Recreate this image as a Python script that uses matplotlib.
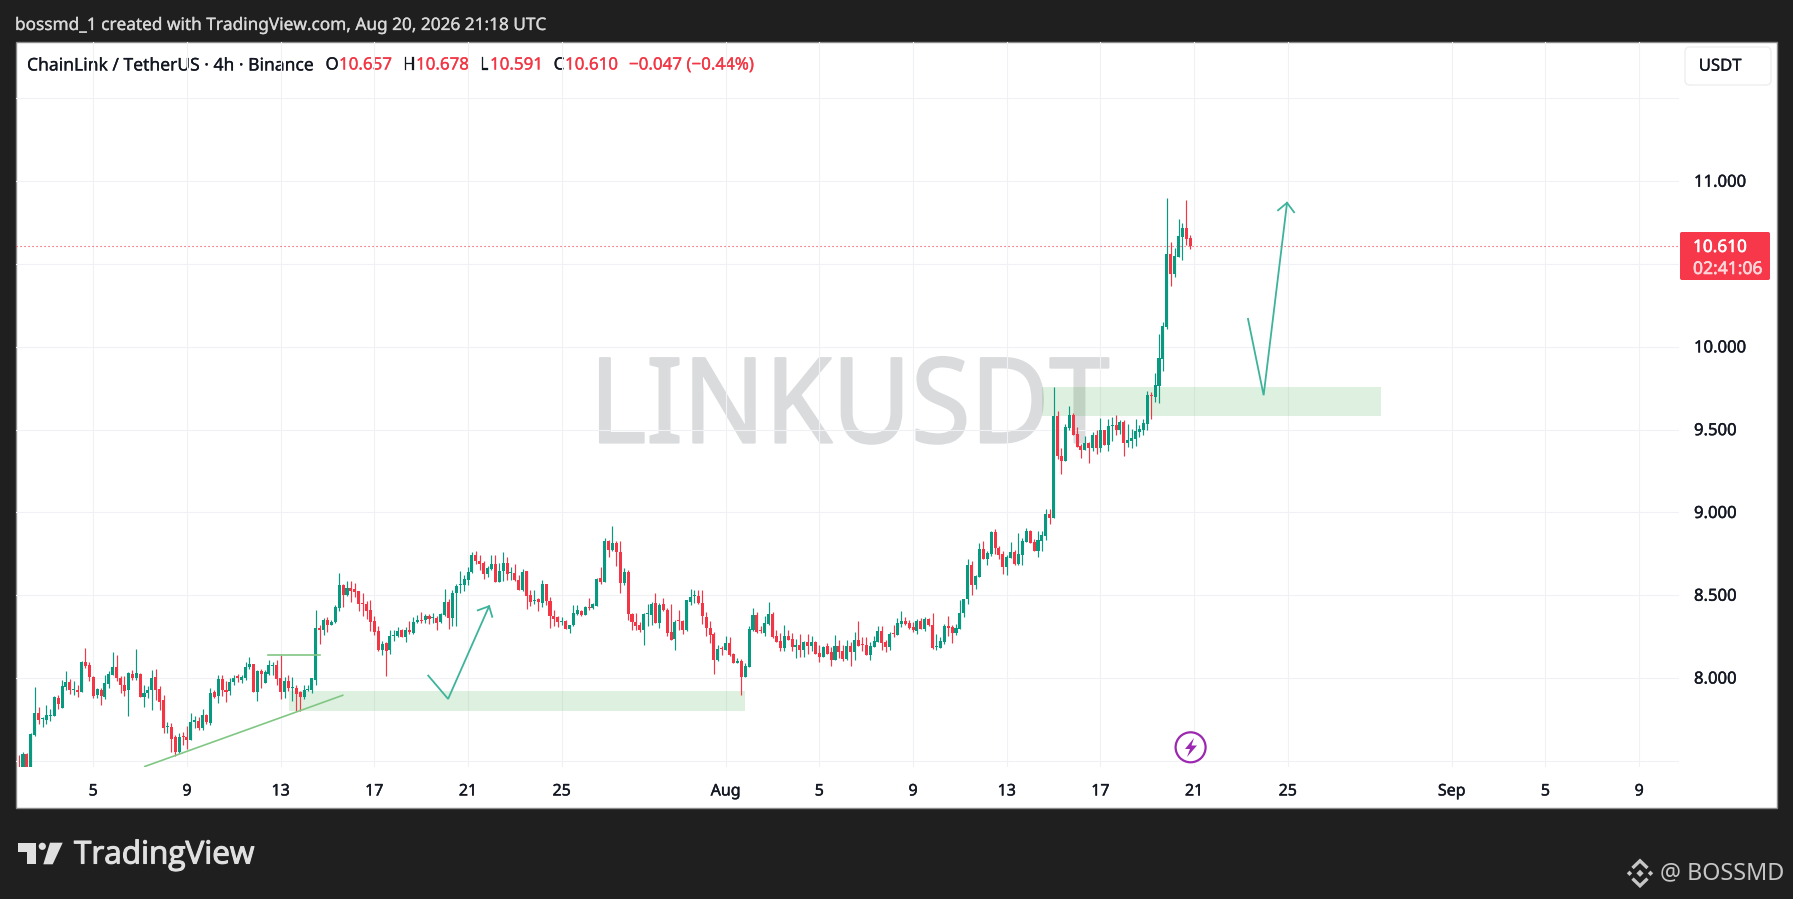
import matplotlib
matplotlib.use("Agg")
import matplotlib.pyplot as plt
import matplotlib.patheffects as pe
import numpy as np
from matplotlib.patches import Rectangle, FancyBboxPatch, Circle, Polygon
from matplotlib.transforms import Affine2D, ScaledTranslation

plt.rcParams['font.family'] = ['Noto Sans', 'DejaVu Sans']

opens = [7.431,7.42,7.544,7.42,7.659,7.792,7.753,7.749,7.770,7.770,
7.880,7.822,7.947,7.979,7.926,7.930,7.914,8.095,8.081,8.009,
7.896,7.930,7.886,7.967,8.021,8.069,8.001,7.961,7.926,8.027,
8.001,8.027,7.886,7.912,7.926,8.007,7.936,7.866,7.703,7.707,
7.645,7.552,7.651,7.647,7.625,7.737,7.743,7.701,7.780,7.731,
7.914,7.890,7.995,7.928,7.920,7.975,8.011,7.991,8.003,8.065,
8.087,7.914,8.045,7.971,8.027,8.073,8.081,8.003,7.918,7.983,
7.940,7.943,7.914,7.888,7.926,7.926,7.991,8.305,8.293,8.353,
8.319,8.337,8.426,8.559,8.504,8.546,8.540,8.524,8.454,8.450,
8.414,8.347,8.287,8.172,8.210,8.168,8.257,8.257,8.291,8.251,
8.293,8.273,8.337,8.353,8.351,8.377,8.361,8.365,8.339,8.381,
8.462,8.361,8.514,8.561,8.559,8.595,8.639,8.746,8.709,8.697,
8.627,8.661,8.691,8.583,8.645,8.697,8.635,8.637,8.595,8.534,
8.645,8.504,8.464,8.476,8.456,8.571,8.468,8.375,8.367,8.341,
8.347,8.299,8.319,8.387,8.408,8.383,8.432,8.426,8.434,8.607,
8.581,8.830,8.776,8.818,8.764,8.577,8.643,8.389,8.341,8.323,
8.289,8.385,8.383,8.456,8.335,8.450,8.414,8.281,8.238,8.347,
8.347,8.291,8.462,8.494,8.498,8.456,8.371,8.305,8.269,8.112,
8.178,8.172,8.214,8.148,8.094,8.106,8.005,8.067,8.291,8.381,
8.287,8.275,8.329,8.389,8.257,8.226,8.184,8.257,8.236,8.190,
8.202,8.172,8.220,8.196,8.220,8.154,8.130,8.196,8.160,8.112,
8.196,8.166,8.118,8.196,8.160,8.232,8.202,8.202,8.142,8.190,
8.220,8.287,8.220,8.190,8.269,8.263,8.329,8.347,8.335,8.311,
8.287,8.347,8.299,8.359,8.323,8.186,8.184,8.220,8.317,8.311,
8.275,8.299,8.390,8.480,8.685,8.565,8.613,8.782,8.722,8.752,
8.885,8.788,8.752,8.673,8.728,8.764,8.691,8.746,8.824,8.891,
8.824,8.770,8.830,8.860,8.993,8.969,9.585,9.344,9.313,9.513,
9.591,9.476,9.404,9.380,9.422,9.392,9.470,9.392,9.495,9.410,
9.521,9.531,9.495,9.549,9.422,9.434,9.446,9.483,9.501,9.537,
9.710,9.700,9.766,9.924,10.117,10.563,10.443,10.545,10.666,10.720,10.657]

highs = [7.538,7.554,7.546,7.669,7.949,7.826,7.765,7.840,7.816,7.890,
7.900,7.987,8.045,7.995,7.985,7.957,8.103,8.184,8.095,8.015,
7.940,7.940,8.021,8.041,8.158,8.142,8.011,8.015,8.035,8.051,
8.178,8.031,7.957,7.955,8.051,8.055,7.951,7.900,7.735,7.729,
7.659,7.669,7.673,7.709,7.790,7.770,7.765,7.816,7.784,7.940,
7.926,8.021,8.021,7.981,8.001,8.021,8.027,8.021,8.097,8.126,
8.087,8.051,8.055,8.051,8.108,8.095,8.112,8.142,8.007,8.021,
8.007,7.957,7.920,7.957,7.961,8.001,8.414,8.323,8.363,8.369,
8.353,8.444,8.637,8.571,8.589,8.585,8.577,8.528,8.514,8.464,
8.470,8.377,8.313,8.222,8.216,8.293,8.289,8.307,8.297,8.309,
8.347,8.367,8.383,8.397,8.389,8.387,8.393,8.377,8.393,8.540,
8.480,8.534,8.571,8.649,8.621,8.671,8.762,8.770,8.742,8.705,
8.675,8.742,8.746,8.695,8.762,8.732,8.671,8.689,8.621,8.659,
8.649,8.534,8.534,8.484,8.591,8.571,8.490,8.414,8.373,8.369,
8.353,8.323,8.440,8.440,8.414,8.438,8.484,8.454,8.605,8.671,
8.846,8.836,8.921,8.826,8.826,8.665,8.655,8.393,8.393,8.337,
8.393,8.448,8.458,8.514,8.454,8.484,8.424,8.450,8.349,8.410,
8.349,8.474,8.538,8.530,8.534,8.534,8.397,8.343,8.277,8.202,
8.192,8.253,8.251,8.152,8.122,8.118,8.092,8.317,8.426,8.399,
8.317,8.377,8.460,8.399,8.291,8.273,8.323,8.293,8.273,8.236,
8.269,8.224,8.269,8.257,8.224,8.202,8.196,8.214,8.188,8.263,
8.232,8.202,8.232,8.220,8.281,8.347,8.245,8.251,8.220,8.257,
8.317,8.317,8.232,8.281,8.323,8.365,8.408,8.369,8.353,8.341,
8.359,8.365,8.371,8.365,8.395,8.269,8.251,8.329,8.377,8.323,
8.329,8.474,8.480,8.722,8.709,8.625,8.818,8.830,8.770,8.891,
8.903,8.800,8.770,8.746,8.824,8.776,8.873,8.848,8.909,8.897,
8.842,8.891,8.891,9.023,9.018,9.756,9.615,9.390,9.537,9.640,
9.601,9.519,9.416,9.464,9.428,9.483,9.501,9.573,9.501,9.567,
9.579,9.591,9.561,9.561,9.537,9.507,9.567,9.531,9.567,9.736,
9.730,9.845,10.080,10.153,10.896,10.636,10.600,10.775,10.745,10.884,10.678]

lows = [7.40,7.40,7.40,7.40,7.649,7.725,7.703,7.725,7.739,7.770,
7.816,7.822,7.930,7.906,7.900,7.886,7.914,8.061,7.981,7.880,
7.880,7.840,7.874,7.940,8.017,7.981,7.910,7.890,7.770,7.991,
7.991,7.884,7.824,7.880,7.806,7.870,7.810,7.669,7.669,7.552,
7.528,7.548,7.598,7.574,7.625,7.699,7.685,7.685,7.725,7.719,
7.880,7.850,7.894,7.854,7.900,7.961,7.975,7.971,7.991,8.055,
7.914,7.864,7.940,7.971,8.021,8.021,7.961,7.876,7.880,7.920,
7.860,7.802,7.800,7.874,7.924,7.910,7.957,8.208,8.259,8.277,
8.319,8.333,8.408,8.430,8.498,8.458,8.490,8.408,8.377,8.357,
8.285,8.261,8.162,8.142,8.011,8.144,8.222,8.249,8.249,8.216,
8.269,8.269,8.333,8.333,8.333,8.327,8.333,8.293,8.333,8.373,
8.297,8.313,8.317,8.514,8.524,8.565,8.635,8.691,8.655,8.601,
8.609,8.655,8.583,8.583,8.585,8.591,8.591,8.585,8.534,8.528,
8.420,8.434,8.448,8.408,8.428,8.444,8.301,8.317,8.309,8.323,
8.297,8.275,8.317,8.383,8.377,8.383,8.414,8.418,8.434,8.567,
8.579,8.730,8.770,8.675,8.516,8.563,8.349,8.289,8.293,8.277,
8.198,8.313,8.323,8.335,8.303,8.404,8.257,8.232,8.168,8.293,
8.269,8.283,8.444,8.454,8.448,8.329,8.253,8.212,8.027,8.102,
8.138,8.172,8.132,8.088,8.092,7.896,8.005,8.065,8.287,8.275,
8.273,8.257,8.323,8.239,8.220,8.166,8.166,8.232,8.166,8.124,
8.130,8.130,8.148,8.166,8.148,8.100,8.130,8.148,8.075,8.112,
8.124,8.106,8.112,8.075,8.112,8.196,8.166,8.142,8.112,8.190,
8.220,8.172,8.160,8.172,8.245,8.263,8.311,8.323,8.299,8.281,
8.269,8.299,8.287,8.313,8.178,8.172,8.184,8.208,8.257,8.214,
8.263,8.299,8.371,8.450,8.504,8.540,8.613,8.716,8.685,8.740,
8.752,8.722,8.631,8.625,8.728,8.685,8.685,8.685,8.824,8.818,
8.770,8.734,8.770,8.836,8.933,8.969,9.324,9.235,9.313,9.501,
9.470,9.398,9.326,9.380,9.301,9.374,9.356,9.368,9.410,9.374,
9.434,9.470,9.476,9.338,9.398,9.392,9.404,9.458,9.470,9.495,
9.567,9.670,9.664,9.857,10.110,10.370,10.419,10.545,10.527,10.618,10.591]

closes = [7.43,7.542,7.42,7.665,7.792,7.749,7.759,7.774,7.774,7.884,
7.846,7.955,7.979,7.926,7.930,7.914,8.095,8.075,8.007,7.894,
7.932,7.890,7.971,8.027,8.069,7.999,7.957,7.924,8.029,8.001,
8.029,7.886,7.910,7.928,8.003,7.930,7.858,7.697,7.707,7.635,
7.552,7.647,7.647,7.625,7.737,7.745,7.701,7.780,7.737,7.912,
7.886,7.995,7.928,7.918,7.979,8.003,8.001,8.007,8.069,8.087,
7.914,8.045,8.027,8.037,8.077,8.081,7.997,7.918,7.983,7.938,
7.945,7.906,7.888,7.926,7.932,7.999,8.305,8.293,8.353,8.323,
8.341,8.430,8.559,8.504,8.546,8.526,8.518,8.450,8.450,8.408,
8.341,8.281,8.172,8.208,8.166,8.257,8.261,8.287,8.251,8.293,
8.277,8.341,8.351,8.347,8.377,8.359,8.363,8.335,8.389,8.462,
8.361,8.516,8.557,8.563,8.599,8.643,8.746,8.705,8.691,8.627,
8.665,8.691,8.583,8.649,8.697,8.627,8.637,8.591,8.534,8.643,
8.498,8.462,8.474,8.458,8.571,8.468,8.373,8.359,8.341,8.343,
8.299,8.323,8.395,8.412,8.383,8.432,8.424,8.446,8.601,8.583,
8.830,8.776,8.818,8.760,8.577,8.641,8.385,8.337,8.317,8.289,
8.389,8.389,8.450,8.335,8.444,8.410,8.275,8.232,8.341,8.343,
8.293,8.470,8.490,8.498,8.452,8.373,8.301,8.263,8.112,8.178,
8.176,8.214,8.138,8.094,8.104,8.005,8.075,8.299,8.381,8.277,
8.283,8.335,8.389,8.251,8.220,8.184,8.257,8.232,8.190,8.202,
8.172,8.220,8.196,8.220,8.148,8.130,8.190,8.148,8.112,8.196,
8.160,8.118,8.196,8.160,8.232,8.196,8.198,8.142,8.196,8.226,
8.287,8.214,8.190,8.269,8.265,8.335,8.347,8.329,8.305,8.289,
8.347,8.299,8.359,8.323,8.184,8.190,8.226,8.317,8.305,8.275,
8.305,8.395,8.480,8.685,8.565,8.619,8.782,8.722,8.758,8.885,
8.788,8.746,8.673,8.734,8.764,8.691,8.752,8.830,8.891,8.818,
8.770,8.836,8.866,8.993,8.969,9.585,9.340,9.313,9.519,9.591,
9.470,9.398,9.380,9.422,9.392,9.470,9.392,9.495,9.410,9.525,
9.525,9.495,9.549,9.422,9.440,9.452,9.489,9.507,9.543,9.712,
9.706,9.772,9.930,10.123,10.563,10.443,10.551,10.672,10.720,10.654,10.610]

last_price = 10.61

price_ticks = [7.5, 8.0, 8.5, 9.0, 9.5, 10.0, 10.5, 11.0, 11.5]
price_labels = ['', '8.000', '8.500', '9.000', '9.500', '10.000', '', '11.000', '']

# bar positions of the date labels (6 bars a day)
date_ticks = [19, 43, 67, 91, 115, 139, 181, 205, 229, 253, 277, 301, 325, 367, 391, 415]
date_labels = ['5', '9', '13', '17', '21', '25', 'Aug', '5', '9', '13', '17', '21', '25', 'Sep', '5', '9']

# drawings on the chart, as bar index / price
zone1_x, zone1_y = [69.1, 185.9], [7.804, 7.924]
zone2_x, zone2_y = [262, 348.8], [9.585, 9.760]
trend_x, trend_y = [32.2, 82.9], [7.466, 7.896]
level_x, level_y = [63.8, 77.1], [8.140, 8.140]
arrow1_x, arrow1_y = [104.8, 109.9, 120.4], [8.015, 7.874, 8.434]
head1_x, head1_y = [117.5, 120.4, 121.2], [8.409, 8.434, 8.370]
arrow2_x, arrow2_y = [314.8, 318.8, 324.8], [10.169, 9.708, 10.870]
head2_x, head2_y = [322.5, 324.8, 326.6], [10.825, 10.870, 10.813]

GREEN = '#089981'
RED = '#f23645'
DRAW = '#3db39c'
INK = '#131722'
W, H = 1793, 899


class Squeeze(pe.AbstractPathEffect):
    # narrows a text about pixel column cx and thickens its strokes
    def __init__(self, sx, cx, lw, color):
        super().__init__()
        self.sx, self.cx, self.lw, self.color = sx, cx, lw, color

    def draw_path(self, renderer, gc, tpath, affine, rgbFace=None):
        gc0 = renderer.new_gc()
        gc0.copy_properties(gc)
        gc0.set_linewidth(self.lw)
        gc0.set_foreground(self.color)
        t = affine + Affine2D().translate(-self.cx, 0).scale(self.sx, 1).translate(self.cx, 0)
        renderer.draw_path(gc0, tpath, t, rgbFace)
        gc0.restore()


def heavy(color, lw=0.3):
    return [pe.withStroke(linewidth=lw, foreground=color)]


fig = plt.figure(figsize=(W / 100, H / 100), dpi=100, facecolor='#1f1f1f')

# page furniture in pixel coordinates
bg = fig.add_axes([0, 0, 1, 1], zorder=0)
bg.set_xlim(0, W)
bg.set_ylim(H, 0)
bg.axis('off')
bg.add_patch(Rectangle((15.5, 41.5), 1761.5, 766.5, fc='white', ec='#8a8a8a', lw=1))

bg.text(15, 25, 'bossmd_1 created with TradingView.com, Aug 20, 2026 21:18 UTC',
        color='#d8d8d8', fontsize=12.4, va='center', ha='left', path_effects=heavy('#d8d8d8', 0.2))
bg.text(27, 65.5, 'ChainLink / TetherUS · 4h · Binance', color=INK, fontsize=12.6, va='center',
        path_effects=heavy(INK, 0.2))
for x, s in [(325.5, 'O'), (403, 'H'), (480, 'L'), (553.6, 'C')]:
    bg.text(x, 65.5, s, color=INK, fontsize=12.2, va='center', path_effects=heavy(INK, 0.2))
for x, s in [(339, '10.657'), (416, '10.678'), (490, '10.591'), (565, '10.610'),
             (629, '−0.047 (−0.44%)')]:
    bg.text(x, 65.5, s, color=RED, fontsize=12.2, va='center', path_effects=heavy(RED, 0.2))

bg.text(849.6, 412, 'LINKUSDT', color='#dadbdd', fontsize=85, va='center', ha='center',
        path_effects=[Squeeze(0.916, 849.6, 1.6, '#dadbdd')])

bg.add_patch(FancyBboxPatch((1687, 49), 82, 34, boxstyle='round,pad=2,rounding_size=5',
                            fc='white', ec='#eeeeee', lw=1))
bg.text(1720, 66.7, 'USDT', color=INK, fontsize=12, va='center', ha='center', path_effects=heavy(INK, 0.2))

# TradingView logo
LOGO = '#e0e0e0'
bg.add_patch(Polygon([(18.3, 842.7), (35.7, 842.7), (35.7, 864.3), (26.7, 864.3), (26.7, 852.3), (18.3, 852.3)],
                     fc=LOGO, ec='none'))
bg.add_patch(Circle((42.3, 846.3), 3.6, fc=LOGO, ec='none'))
bg.add_patch(Polygon([(50, 842.7), (62.7, 842.7), (52.7, 864.3), (43.3, 864.3)], fc=LOGO, ec='none'))
bg.text(74, 855, 'TradingView', color=LOGO, fontsize=22.7, va='center', family='Open Sans',
        path_effects=heavy(LOGO, 0.8))

# Binance mark and handle
MARK = '#c6c6c6'
bg.plot([1632.5, 1640, 1647.5], [868, 860.8, 868], color=MARK, lw=2.4, solid_joinstyle='miter', solid_capstyle='butt')
bg.plot([1632.5, 1640, 1647.5], [878.6, 885.8, 878.6], color=MARK, lw=2.4, solid_joinstyle='miter', solid_capstyle='butt')
for cx, r in [(1629.5, 2.7), (1640, 3.6), (1650.5, 2.7)]:
    bg.add_patch(Polygon([(cx - r, 873.3), (cx, 873.3 - r), (cx + r, 873.3), (cx, 873.3 + r)], fc=MARK, ec='none'))
bg.text(1660, 873, '@ BOSSMD', color=MARK, fontsize=16.8, va='center')

# main pane: 16..1679 px across, 41.5..766.5 px down
ax = fig.add_axes([16 / W, 1 - 766.5 / H, (1679 - 16) / W, (766.5 - 41.5) / H], zorder=1)
ax.patch.set_alpha(0)
for s in ax.spines.values():
    s.set_visible(False)
ax.set_xlim(-0.79, 425.2)
ax.set_ylim(7.466, 11.844)

ax.set_xticks(date_ticks)
ax.set_xticklabels(date_labels)
ax.yaxis.tick_right()
ax.set_yticks(price_ticks)
ax.set_yticklabels(price_labels)
ax.tick_params(axis='x', length=0, pad=12.2, labelsize=11.5, labelcolor=INK)
ax.tick_params(axis='y', length=0, pad=10.8, labelsize=12, labelcolor=INK)
up_1px = ScaledTranslation(0, 0.5 / 100, fig.dpi_scale_trans)
for lbl in ax.get_yticklabels():
    lbl.set_transform(lbl.get_transform() + up_1px)
    lbl.set_path_effects(heavy(INK))
for lbl in ax.get_xticklabels():
    lbl.set_path_effects(heavy(INK))
ax.grid(True, color='#f0f1f4', lw=0.8)
ax.set_axisbelow(True)

ax.fill_between(zone1_x, zone1_y[0], zone1_y[1], color='#4caf50', alpha=0.18, lw=0, zorder=1.5)
ax.fill_between(zone2_x, zone2_y[0], zone2_y[1], color='#4caf50', alpha=0.18, lw=0, zorder=1.5)

o = np.array(opens)
h = np.array(highs)
l = np.array(lows)
c = np.array(closes)
n = np.arange(len(o))
colors = np.where(c >= o, GREEN, RED)

ax.vlines(n, l, h, colors=colors, lw=0.85, zorder=3)
bottoms = np.minimum(o, c)
heights = np.maximum(np.abs(c - o), 0.006)
ax.bar(n, heights, bottom=bottoms, width=0.78, color=colors, lw=0, zorder=3)

ax.axhline(last_price, color=RED, lw=0.8, ls=(0, (1, 2.6)), zorder=2.5)

ax.plot(trend_x, trend_y, color='#81c784', lw=1.2, zorder=4)
ax.plot(level_x, level_y, color='#81c784', lw=1.2, zorder=4)
for xs, ys in [(arrow1_x, arrow1_y), (head1_x, head1_y), (arrow2_x, arrow2_y), (head2_x, head2_y)]:
    ax.plot(xs, ys, color=DRAW, lw=1.3, zorder=4, solid_joinstyle='miter')

# last price tag and lightning badge, on top of everything
top = fig.add_axes([0, 0, 1, 1], zorder=2)
top.set_xlim(0, W)
top.set_ylim(H, 0)
top.axis('off')
top.add_patch(FancyBboxPatch((1680, 232), 90, 48, boxstyle='round,pad=0,rounding_size=2', fc='#f7384a', ec='none'))
top.text(1693, 247, '10.610', color='white', fontsize=12.4, va='center', path_effects=heavy('white', 0.4))
top.text(1693, 269, '02:41:06', color='#ffd7db', fontsize=12.6, va='center', path_effects=heavy('#ffd7db', 0.4))
top.add_patch(Circle((1190.6, 747.3), 15, fc='white', ec='#9c27b0', lw=1.6))
top.add_patch(Polygon([(1194, 738), (1185, 749), (1190, 749), (1187, 757), (1197, 745.5), (1191.5, 745.5)],
                      fc='#9c27b0', ec='none'))

fig.savefig('out.png', dpi=100, facecolor=fig.get_facecolor())
